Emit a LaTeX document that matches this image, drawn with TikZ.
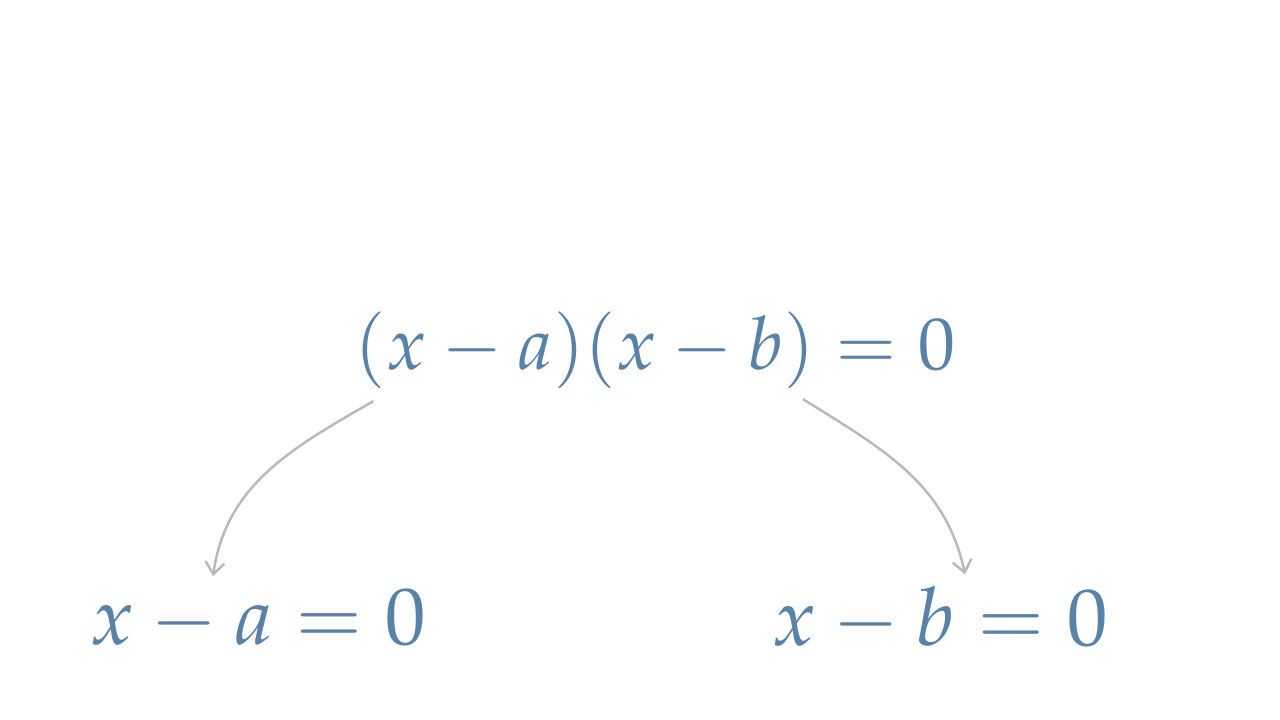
\documentclass[tikz,border=0pt]{standalone}
\usepackage{amsmath,amssymb}
\usepackage{mathpazo}
\usepackage{tikz}
\usetikzlibrary{arrows.meta, positioning}

\definecolor{eqblue}{RGB}{88,130,168}
\definecolor{arrowgray}{RGB}{185,185,185}

\begin{document}
\begin{tikzpicture}[->, >={Straight Barb[length=1.2mm, width=1.9mm]}, node distance=2.7cm,
	every node/.style={text=eqblue, inner sep=0pt},
	factored/.style={font=\fontsize{21}{25}\selectfont},
	root/.style={font=\fontsize{23}{27}\selectfont},
	split/.style={draw=arrowgray, line width=0.7pt}]
	\useasboundingbox (0,0) rectangle (12.8,7.2);
	\node[factored] (product) at (6.55,3.70) {$(x-a)(x-b)=0$};
	\node[root] (roota) [below of=product, xshift=-3.97cm] {$x-a=0$};
	\node[root] (rootb) [below of=product, xshift=2.85cm] {$x-b=0$};

	\draw[split] ([xshift=0.19cm, yshift=-0.12cm]product.south west) to[out=210, in=82] ([xshift=-0.45cm, yshift=0.12cm]roota.north);
	\draw[split] ([xshift=1.48cm, yshift=-0.10cm]product.south) to[out=-32, in=102] ([xshift=0.25cm, yshift=0.12cm]rootb.north);
\end{tikzpicture}
\end{document}
